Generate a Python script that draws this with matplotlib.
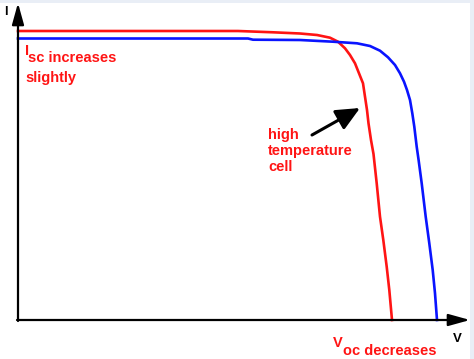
#!/usr/bin/env python3
"""
Solar cell I-V curve: effect of temperature (schematic).
Red = high temperature cell, blue = reference cell.
"""
import matplotlib
matplotlib.use('Agg')
import matplotlib.pyplot as plt

# ── data (arbitrary units) ──────────────────────────────────────────────────
v_hot = [0, 220, 255, 282, 299, 312, 320, 327, 332, 337, 341, 345, 347, 349,
         350.5, 353, 355.5, 358.7, 362, 365.3, 368.7, 371.3, 374]
i_hot = [289, 289, 287.7, 286.5, 285, 282.3, 278.3, 271.7, 265, 256.7, 246.7,
         236.7, 223.3, 210, 196.7, 180, 166, 136.7, 103.3, 80, 53.3, 30, 0]

v_ref = [0, 230, 235, 282, 315, 339, 352, 362, 370, 377, 382, 386, 389, 392,
         394.3, 396.3, 398.7, 400.6, 403.7, 407.7, 411.3, 414.7, 417, 419]
i_ref = [281.5, 281.5, 280.3, 280, 278.3, 276.7, 274, 269.3, 262.7, 255, 246.7,
         238.3, 230, 220, 206.7, 193.3, 173.3, 160, 136.7, 103.3, 76.7, 50,
         26.7, 0]

V_MAX, I_MAX = 452, 317

RED = '#ff1414'
BLUE = '#0a14ff'

plt.rcParams['font.family'] = ['Liberation Sans', 'DejaVu Sans']

fig = plt.figure(figsize=(4.74, 3.59), dpi=100, facecolor='#e9eef6')
ax = fig.add_axes([0, 0, 470 / 474, 356 / 359])
ax.set_facecolor('white')
ax.set_xlim(-18, 452)
ax.set_ylim(-39, 317)
ax.set_xticks([])
ax.set_yticks([])
for sp in ax.spines.values():
    sp.set_visible(False)

ax.plot(v_hot, i_hot, color=RED, lw=1.9, solid_joinstyle='round')
ax.plot(v_ref, i_ref, color=BLUE, lw=1.9, solid_joinstyle='round')

# axes drawn as arrows
ax_arrow = dict(arrowstyle='-|>,head_length=1.3,head_width=0.36',
                mutation_scale=10, lw=1.6, color='black', shrinkA=0, shrinkB=0)
ax.annotate('', xy=(V_MAX, 0), xytext=(-1, 0), arrowprops=ax_arrow,
            annotation_clip=False)
ax.annotate('', xy=(0, I_MAX), xytext=(0, -1), arrowprops=ax_arrow,
            annotation_clip=False)
ax.text(-12, 314, 'I', fontsize=9, fontweight='bold', ha='center', va='top')
ax.text(439, -13, 'V', fontsize=9.5, fontweight='bold', ha='center', va='top')

# annotations
tkw = dict(color=RED, fontsize=10.5, fontweight='bold')
ax.text(7, 265, 'I', ha='left', va='baseline', **tkw)
ax.text(10, 258, 'sc increases', ha='left', va='baseline', **tkw)
ax.text(7, 238, 'slightly', ha='left', va='baseline', **tkw)

ax.text(315, -27, 'V', ha='left', va='baseline', **tkw)
ax.text(325, -35, 'oc decreases', ha='left', va='baseline', **tkw)

ax.text(250, 192, 'high\ntemperature\ncell', ha='left', va='top',
        linespacing=1.2, **tkw)

ax.annotate('', xy=(342, 212), xytext=(294, 185),
            arrowprops=dict(arrowstyle='-|>,head_length=1.2,head_width=0.55',
                            mutation_scale=12, lw=2.2, color='black',
                            shrinkA=0, shrinkB=0))

fig.savefig('out.png', dpi=100, facecolor=fig.get_facecolor())
